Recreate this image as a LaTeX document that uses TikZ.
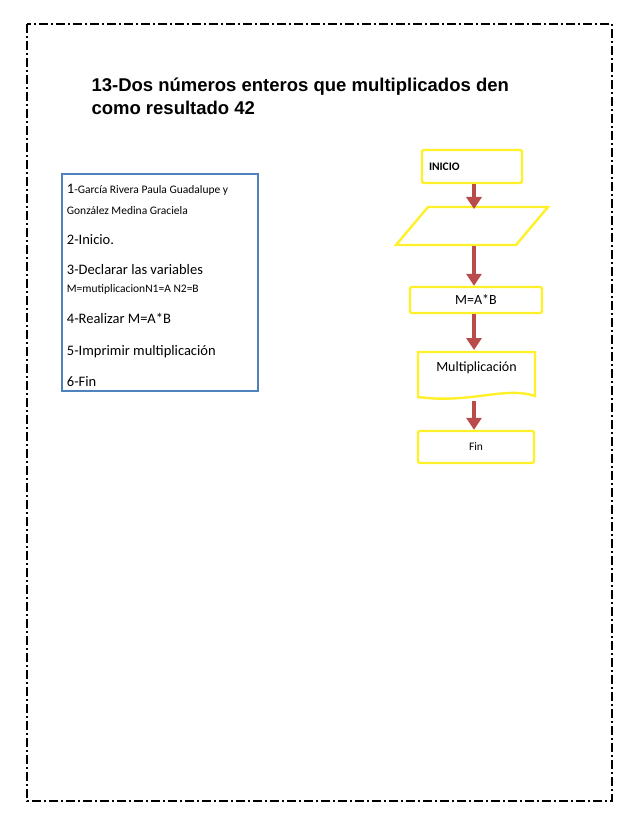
\documentclass[tikz,border=0pt]{standalone}
\usepackage{fontspec}
\setmainfont{Carlito}
\newfontfamily\titlefont{Liberation Sans}
\usetikzlibrary{shapes.geometric,arrows.meta}
\definecolor{ylw}{RGB}{255,240,40}
\definecolor{arr}{RGB}{185,75,75}
\definecolor{blu}{RGB}{79,129,189}
\begin{document}
\begin{tikzpicture}[x=1pt,y=-1pt,
        fbox/.style={draw=ylw, line width=2.4pt, rounded corners=2pt, fill=white, inner sep=0pt},
        fto/.style={draw=arr, line width=3.6pt, -{Triangle[length=12pt,width=15pt]}},
        every node/.style={align=left}]
    \useasboundingbox (0,0) rectangle (638,826);
    \draw[line width=1.6pt, dash pattern=on 9pt off 3pt on 2pt off 3pt] (27,24) rectangle (612,801);

    \node[anchor=north west, font=\titlefont\bfseries\fontsize{18.5}{23}\selectfont] (title) at (88,74)
        {13-Dos números enteros que multiplicados den\\como resultado 42};

    % steps
    \node[draw=blu, line width=1.8pt, anchor=north west, inner sep=0pt] (steps) at (61,173)
        {\parbox[t][217pt][t]{196pt}{\raggedright\leftskip=5pt\vspace{10pt}
         \fontsize{14.5}{17}\selectfont
         1{\fontsize{11.5}{12}\selectfont-García Rivera Paula Guadalupe y}\\[4pt]
         {\fontsize{11.5}{12}\selectfont González Medina Graciela}\\[13pt]
         2-Inicio.\\[13pt]
         3-Declarar las variables\\[1pt]
         {\fontsize{11.5}{12}\selectfont M=mutiplicacionN1=A N2=B}\\[14pt]
         4-Realizar M=A*B\\[15pt]
         5-Imprimir multiplicación\\[14pt]
         6-Fin}};

    % flowchart
    \node[fbox, minimum width=100pt, minimum height=33pt, text width=86pt,
          font=\bfseries\fontsize{11.5}{13}\selectfont] (inicio) at (472,166.5) {INICIO};
    \draw[draw=ylw, line width=2.4pt, fill=white] (428,207) -- (548,207) -- (516,245) -- (396,245) -- cycle;
    \node[fbox, minimum width=132pt, minimum height=26pt, font=\fontsize{14}{16}\selectfont] (mult) at (476,300) {M=A*B};
    \draw[draw=ylw, line width=2.4pt, fill=white] (418,352) -- (535,352) -- (535,396)
        .. controls (505,386) and (470,404) .. (418,397) -- cycle;
    \node[minimum width=117pt, minimum height=40pt, font=\fontsize{14}{16}\selectfont] (salida) at (476.5,368) {Multiplicación};
    \node[fbox, minimum width=116pt, minimum height=32pt, font=\fontsize{11.5}{13}\selectfont] (fin) at (476,447) {Fin};

    \draw[fto] (inicio.south -| 474,0) -- (474,209);
    \draw[fto] (474,246) -- (mult.north -| 474,0);
    \draw[fto] (mult.south -| 474,0) -- (474,350);
    \draw[fto] (474,401) -- (fin.north -| 474,0);
\end{tikzpicture}
\end{document}
